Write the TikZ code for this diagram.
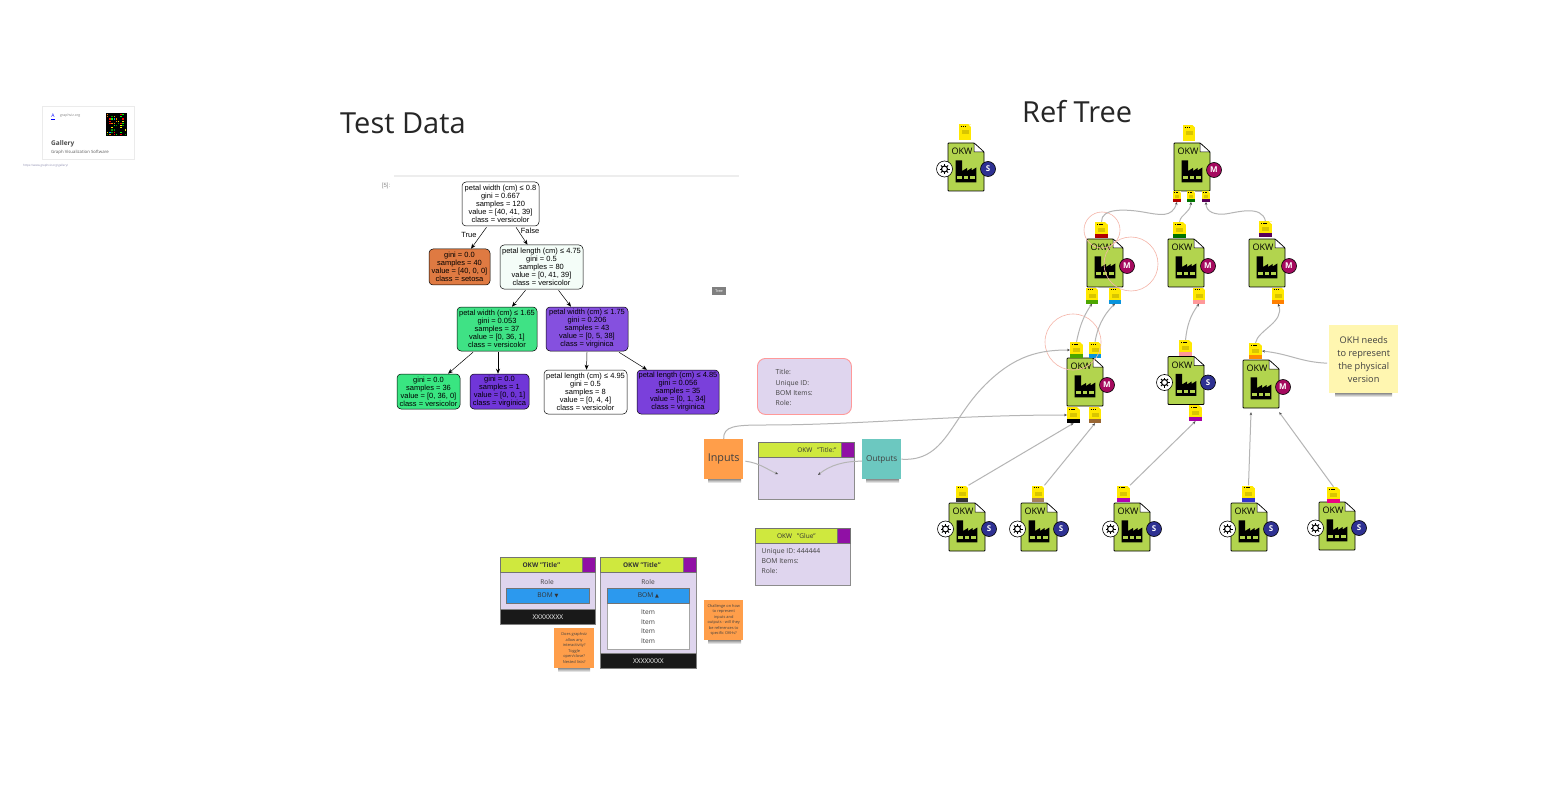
\documentclass[tikz,border=0pt]{standalone}
\usepackage{fontspec}
\setmainfont{Open Sans}
\newfontfamily\treefont{Liberation Sans}
\newfontfamily\symfont{DejaVu Sans}
\usetikzlibrary{arrows.meta}

\definecolor{lav}{HTML}{DFD5EE}
\definecolor{headgreen}{HTML}{CFE83E}
\definecolor{headpurple}{HTML}{9010A5}
\definecolor{btnblue}{HTML}{2C99EE}
\definecolor{okwgreen}{HTML}{B2D44E}
\definecolor{tagyellow}{HTML}{FFE800}
\definecolor{stickyorange}{HTML}{FF9E4A}
\definecolor{stickyteal}{HTML}{6CC8C0}
\definecolor{stickynote}{HTML}{FFF6B0}
\definecolor{ringred}{HTML}{F5B5A8}
\definecolor{wiregray}{HTML}{B5B5B5}
\definecolor{badgem}{HTML}{A50A5F}
\definecolor{badges}{HTML}{2E3192}

\tikzset{
  treenode/.style={draw=black,rounded corners=4pt,line width=.5pt,align=center,inner sep=0pt,
    font=\treefont\fontsize{7.5}{8}\selectfont},
  treeedge/.style={-{Stealth[length=5pt,width=4pt]},line width=.5pt},
  okwbody/.style={minimum width=36pt,minimum height=48pt,inner sep=0pt},
  wire/.style={draw=wiregray,line width=1pt,-{Stealth[length=3pt,width=2.5pt,black!70]}},
  ring/.style={draw=ringred,line width=.6pt},
  boxbody/.style={draw=black!45,line width=.9pt,fill=lav,anchor=north west,inner sep=0pt},
  headbar/.style={draw=black!55,line width=.7pt,fill=headgreen,anchor=north west,inner sep=0pt,
    font=\fontsize{6.5}{7}\selectfont,text=black!80},
  headflag/.style={draw=black!55,line width=.7pt,fill=headpurple,anchor=north west,inner sep=0pt},
  boxtext/.style={align=left,anchor=north west,inner sep=0pt,text=black!75,
    font=\fontsize{6.8}{10.3}\selectfont},
  smalltext/.style={text=black!75,inner sep=0pt,font=\fontsize{6.6}{8}\selectfont},
  sticky/.style={anchor=north west,inner sep=0pt,align=center,text=black!75},
  title/.style={anchor=west,inner sep=0pt,text=black!85,font=\fontsize{29}{32}\selectfont}
}

% the file icon, without badges
\newcommand{\okwfile}[3]{
  \node[okwbody] (#1) at (#2,#3) {};
  \begin{scope}[shift={(#1.center)}]
    \draw[fill=okwgreen,line width=.8pt,rounded corners=.8pt] (-18,-24) -- (8,-24) -- (18,-15) -- (18,24) -- (-18,24) -- cycle;
    \draw[fill=white,line width=.5pt] (8,-24) -- (8,-15) -- (18,-15) -- cycle;
    \fill[black] (-10.3,-6.7) -- (-4,-6.7) -- (-4,4) -- (1,1) -- (1,4) -- (5.5,1) -- (5.5,3.5) -- (10.3,.5) -- (10.3,15.3) -- (-10.3,15.3) -- cycle;
    \foreach \wx in {-8.7,-2,4.3}
      \fill[okwgreen] (\wx,9) rectangle +(4.4,3);
    \node[inner sep=0pt,font=\fontsize{9}{9}\selectfont] at (-4,-15.5) {OKW};
  \end{scope}
}
\newcommand{\okwmaker}[3]{ % file with M badge
  \okwfile{#1}{#2}{#3}
  \node[circle,draw=black,fill=badgem,line width=.6pt,minimum size=15pt,inner sep=0pt,text=white,
    font=\bfseries\fontsize{8}{8}\selectfont] (#1badge) at ([xshift=22pt,yshift=-3pt]#1.center) {M};
}
\newcommand{\okwshop}[3]{ % file with gear and S badge
  \okwfile{#1}{#2}{#3}
  \node[circle,draw=black,fill=badges,line width=.6pt,minimum size=15pt,inner sep=0pt,text=white,
    font=\bfseries\fontsize{8}{8}\selectfont] (#1badge) at ([xshift=22pt,yshift=-2pt]#1.center) {S};
  \node[circle,draw=black,fill=white,line width=.6pt,minimum size=16pt,inner sep=0pt] (#1gear) at ([xshift=-21.5pt,yshift=-2pt]#1.center) {};
  \begin{scope}[shift={(#1gear.center)}]
    \draw[line width=1.1pt] (0,0) circle (3pt);
    \foreach \ga in {0,45,...,315}
      \draw[line width=.9pt] (\ga:3pt) -- (\ga:5pt);
  \end{scope}
}
% the small yellow tag: [scale], name, x, y, band colour
\newcommand{\okwtagdoc}[5][1]{
  \node[minimum width=#1*12.5pt,minimum height=#1*16pt,inner sep=0pt,fill=tagyellow] (#2) at (#3,#4) {};
  \begin{scope}[shift={(#2.center)},scale=#1]
    \fill[#5] (-6.25,4) rectangle (6.25,8);
    \fill[tagyellow!85!black] (-3.5,-2) rectangle (3.5,2);
    \draw[black,line width=.8pt,dash pattern=on 1.4pt off .8pt] (-4.5,-6) -- (2,-6);
    \fill[white] (6.25,-8) -- (3.5,-8) -- (6.25,-5.5) -- cycle;
  \end{scope}
}
% soft shadow under a sticky
\newcommand{\stickyshadow}[3]{
  \shade[top color=black!45,bottom color=white,draw=none] (#1,#3) rectangle (#2,#3+4);
}

\begin{document}
\begin{tikzpicture}[x=1pt,y=-1pt]
  \useasboundingbox (0,0) rectangle (1544,802);
  \fill[white] (0,0) rectangle (1544,802);

  % gallery card
  \node[draw=black!8,line width=.8pt,fill=white,anchor=north west,minimum width=92pt,minimum height=53pt,inner sep=0pt] (gallery) at (42,106) {};
  \node[fill=black,anchor=north west,minimum width=21pt,minimum height=23pt,inner sep=0pt] (galleryimg) at (106,113) {};
  \pgfmathsetseed{11}
  \pgfmathdeclarerandomlist{dotcols}{{red}{green}{yellow}{orange}{cyan}{green!60!black}{black}{black}{black}{black}{black}{black}}
  \foreach \gx in {0,...,8}
    \foreach \gy in {0,...,9}{
      \pgfmathrandomitem{\dotcol}{dotcols}
      \fill[\dotcol] (107+\gx*2.2,114+\gy*2.2) rectangle +(1.4,1.3);
    }
  \node[inner sep=0pt,text=blue,font=\fontsize{5}{5}\selectfont] (galleryicon) at (53,117) {\textcolor{blue}{\underline{A}}};
  \node[inner sep=0pt,anchor=west,text=black!50,font=\fontsize{3.5}{4}\selectfont] (gallerysite) at (60,116) {graphviz.org};
  \node[inner sep=0pt,anchor=west,text=black!70,font=\bfseries\fontsize{6.5}{7}\selectfont] (gallerytitle) at (51,144) {Gallery};
  \node[inner sep=0pt,anchor=west,text=black!65,font=\fontsize{4.3}{5}\selectfont] (gallerysub) at (51,152.5) {Graph Visualization Software};
  \node[inner sep=0pt,anchor=west,text=blue!30!black!45,font=\fontsize{2.9}{3}\selectfont] (gallerylink) at (23,166) {https://www.graphviz.org/gallery/};

  % titles
  \node[title] (testtitle) at (340,123.5) {Test Data};
  \node[title] (reftitle) at (1022,112) {Ref Tree};

  % notebook bits
  \fill[black!7] (394,175) rectangle (739,177);
  \node[inner sep=0pt,text=black!45,font=\treefont\fontsize{6}{6}\selectfont] (cellno) at (386,186) {[5]:};
  \node[fill=black!50,text=white,inner sep=0pt,minimum width=14pt,minimum height=8pt,font=\treefont\fontsize{3.8}{4}\selectfont] (treebadge) at (719,291) {Tree};

  % decision tree
  \node[treenode,fill=white,minimum width=77pt,minimum height=44pt] (n0) at (500.5,204) {petal width (cm) ≤ 0.8\\gini = 0.667\\samples = 120\\value = [40, 41, 39]\\class = versicolor};
  \node[treenode,minimum width=61pt,minimum height=36pt,fill={rgb,255:red,223;green,122;blue,66}] (n1) at (459.5,267) {gini = 0.0\\samples = 40\\value = [40, 0, 0]\\class = setosa};
  \node[treenode,fill={rgb,255:red,244;green,253;blue,248},minimum width=83pt,minimum height=44pt] (n2) at (541.5,267) {petal length (cm) ≤ 4.75\\gini = 0.5\\samples = 80\\value = [0, 41, 39]\\class = versicolor};
  \node[treenode,fill={rgb,255:red,63;green,226;blue,133},minimum width=80pt,minimum height=44pt] (n3) at (497,329) {petal width (cm) ≤ 1.65\\gini = 0.053\\samples = 37\\value = [0, 36, 1]\\class = versicolor};
  \node[treenode,fill={rgb,255:red,133;green,80;blue,223},minimum width=82pt,minimum height=44pt] (n4) at (587,329) {petal width (cm) ≤ 1.75\\gini = 0.206\\samples = 43\\value = [0, 5, 38]\\class = virginica};
  \node[treenode,fill={rgb,255:red,57;green,229;blue,129},minimum width=63pt,minimum height=35pt] (n5) at (428.5,391.5) {gini = 0.0\\samples = 36\\value = [0, 36, 0]\\class = versicolor};
  \node[treenode,fill={rgb,255:red,112;green,54;blue,216},minimum width=59pt,minimum height=35pt] (n6) at (499.5,391.5) {gini = 0.0\\samples = 1\\value = [0, 0, 1]\\class = virginica};
  \node[treenode,fill=white,minimum width=83pt,minimum height=44pt] (n7) at (585.5,392) {petal length (cm) ≤ 4.95\\gini = 0.5\\samples = 8\\value = [0, 4, 4]\\class = versicolor};
  \node[treenode,fill={rgb,255:red,122;green,64;blue,219},minimum width=82pt,minimum height=44pt] (n8) at (678,392) {petal length (cm) ≤ 4.85\\gini = 0.056\\samples = 35\\value = [0, 1, 34]\\class = virginica};
  \draw[treeedge] ([xshift=-14pt,yshift=-1pt]n0.south) -- ([xshift=11.5pt]n1.north);
  \draw[treeedge] ([xshift=15.5pt,yshift=-1pt]n0.south) -- ([xshift=-14pt]n2.north);
  \draw[treeedge] ([xshift=-16pt,yshift=-1pt]n2.south) -- ([xshift=15pt]n3.north);
  \draw[treeedge] ([xshift=17pt,yshift=-1pt]n2.south) -- ([xshift=-16pt]n4.north);
  \draw[treeedge] ([xshift=-24pt,yshift=-1pt]n3.south) -- ([xshift=19.5pt]n5.north);
  \draw[treeedge] ([xshift=1pt,yshift=-1pt]n3.south) -- ([xshift=-1.5pt]n6.north);
  \draw[treeedge] ([yshift=-1pt]n4.south) -- ([xshift=1pt]n7.north);
  \draw[treeedge] ([xshift=32pt,yshift=-1pt]n4.south) -- ([xshift=-31pt]n8.north);
  \node[inner sep=0pt,font=\treefont\fontsize{7.5}{8}\selectfont] (truelabel) at (469,235) {True};
  \node[inner sep=0pt,font=\treefont\fontsize{7.5}{8}\selectfont] (falselabel) at (530,231) {False};

  % field list card
  \node[boxbody,draw=red!40,rounded corners=8pt,minimum width=94pt,minimum height=56pt] (fieldcard) at (757,358) {};
  \node[boxtext] (fieldtext) at (775.5,369.5) {Title:\\Unique ID:\\BOM Items:\\Role:};

  % OKW box with inputs and outputs
  \node[boxbody,minimum width=96pt,minimum height=57pt] (titlebox) at (758,442) {};
  \node[headbar,minimum width=83pt,minimum height=15pt] (titlehead) at (758,442) {\hspace{34pt}OKW\hspace{5pt}"Title:"};
  \node[headflag,minimum width=13pt,minimum height=15pt] (titleflag) at (841,442) {};
  \coordinate (inputsink) at (778,474);
  \coordinate (outputsink) at (818,475);
  \stickyshadow{708}{741}{479}
  \node[sticky,fill=stickyorange,minimum width=39pt,minimum height=40pt,font=\fontsize{10.8}{11}\selectfont] (inputs) at (704,439) {\raisebox{-4pt}{Inputs}};
  \stickyshadow{866}{899}{479}
  \node[sticky,fill=stickyteal,minimum width=39pt,minimum height=40pt,font=\fontsize{8.2}{9}\selectfont] (outputs) at (862,439) {\raisebox{-2.5pt}{Outputs}};

  % glue box
  \node[boxbody,minimum width=95pt,minimum height=57pt] (gluebox) at (755,528) {};
  \node[headbar,minimum width=82pt,minimum height=14.5pt] (gluehead) at (755,528) {OKW\hspace{5pt}"Glue"};
  \node[headflag,minimum width=13pt,minimum height=14.5pt] (glueflag) at (837,528) {};
  \node[boxtext] (gluetext) at (761.5,548) {Unique ID: 444444\\BOM Items:\\Role:};

  % closed widget
  \node[boxbody,minimum width=95pt,minimum height=67pt] (widgeta) at (500,557) {};
  \node[headbar,minimum width=82pt,minimum height=15pt,font=\bfseries\fontsize{6.5}{7}\selectfont] (widgetahead) at (500,557) {OKW "Title"};
  \node[headflag,minimum width=13pt,minimum height=15pt] (widgetaflag) at (582,557) {};
  \node[smalltext] (widgetarole) at (547,581.7) {Role};
  \node[draw=black!55,line width=.8pt,fill=btnblue,anchor=north west,minimum width=83pt,minimum height=15pt,inner sep=0pt,font=\fontsize{6.6}{8}\selectfont,text=black!80] (widgetabtn) at (506,588) {BOM {\symfont\fontsize{5}{5}\selectfont ▼}};
  \node[draw=black!50,line width=.8pt,fill=black!90,anchor=north west,minimum width=95pt,minimum height=15pt,inner sep=0pt,text=white,font=\fontsize{6.6}{8}\selectfont] (widgetabar) at (500,609) {XXXXXXXX};

  % open widget
  \node[boxbody,minimum width=96pt,minimum height=111pt] (widgetb) at (600,557) {};
  \node[headbar,minimum width=83pt,minimum height=15pt,font=\bfseries\fontsize{6.5}{7}\selectfont] (widgetbhead) at (600,557) {OKW "Title"};
  \node[headflag,minimum width=13pt,minimum height=15pt] (widgetbflag) at (683,557) {};
  \node[smalltext] (widgetbrole) at (648,581.7) {Role};
  \node[draw=black!35,line width=.9pt,fill=white,anchor=north west,minimum width=82pt,minimum height=46pt,inner sep=0pt] (widgetblist) at (607,603) {};
  \node[draw=black!55,line width=.8pt,fill=btnblue,anchor=north west,minimum width=82pt,minimum height=15pt,inner sep=0pt,font=\fontsize{6.6}{8}\selectfont,text=black!80] (widgetbbtn) at (607,588) {BOM {\symfont\fontsize{5}{5}\selectfont ▲}};
  \foreach \iy in {611.7,621.7,630.7,640.7}
    \node[smalltext] at (648,\iy) {Item};
  \node[draw=black!50,line width=.8pt,fill=black!90,anchor=north west,minimum width=96pt,minimum height=15pt,inner sep=0pt,text=white,font=\fontsize{6.6}{8}\selectfont] (widgetbbar) at (600,653) {XXXXXXXX};

  % small stickies
  \stickyshadow{558}{590}{668}
  \node[sticky,fill=stickyorange,minimum width=40pt,minimum height=40pt,font=\fontsize{3.9}{5.5}\selectfont] (asknote) at (554,628) {Does graphviz\\allow any\\interactivity?\\Toggle\\open/close?\\Nested lists?};
  \stickyshadow{708}{741}{640}
  \node[sticky,fill=stickyorange,minimum width=39pt,minimum height=40pt,font=\fontsize{3.9}{5.5}\selectfont] (challengenote) at (704,600) {Challenge on how\\to represent\\inputs and\\outputs - will they\\be references to\\specific OKHs?};

  % ref tree files
  \okwshop{okwA}{966}{167}
  \okwmaker{okwR}{1192}{167}
  \okwmaker{okwB}{1105}{263}
  \okwmaker{okwC}{1186}{263}
  \okwmaker{okwD}{1267}{263}
  \okwmaker{okwE}{1085}{382}
  \okwshop{okwF}{1186}{380.5}
  \okwmaker{okwG}{1261}{384}
  \okwshop{okwH}{967}{527}
  \okwshop{okwI}{1039}{527}
  \okwshop{okwJ}{1132}{527}
  \okwshop{okwK}{1249}{527}
  \okwshop{okwL}{1337}{526}

  % tags
  \okwtagdoc{tagA}{965}{132.5}{tagyellow}
  \okwtagdoc{tagR}{1189}{133}{tagyellow}
  \okwtagdoc[.65]{tagRa}{1177}{196.5}{red!70!black}
  \okwtagdoc[.65]{tagRb}{1191}{196.5}{green!45!black}
  \okwtagdoc[.65]{tagRc}{1206}{196.5}{violet!70!black}
  \okwtagdoc{tagB}{1101.5}{230}{red!70!black}
  \okwtagdoc{tagBa}{1092}{295.5}{green!50!black!70!yellow}
  \okwtagdoc{tagBb}{1115}{295.5}{cyan!80!blue}
  \okwtagdoc{tagC}{1179.5}{230}{green!45!black}
  \okwtagdoc{tagCa}{1199}{295.5}{pink!80!red}
  \okwtagdoc{tagD}{1265.5}{229.5}{violet!70!black}
  \okwtagdoc{tagDa}{1278}{295.5}{orange}
  \okwtagdoc{tagEa}{1076.5}{350}{green!50!black!70!yellow}
  \okwtagdoc{tagEb}{1095}{350}{cyan!80!blue}
  \okwtagdoc{tagEc}{1073.5}{415}{black}
  \okwtagdoc{tagEd}{1095}{415}{brown!80!black}
  \okwtagdoc{tagF}{1185.5}{348}{pink!80!red}
  \okwtagdoc{tagFa}{1195.5}{413}{violet!70!magenta}
  \okwtagdoc{tagG}{1255.5}{351}{orange!90!yellow}
  \okwtagdoc{tagH}{962}{493.5}{black!80}
  \okwtagdoc{tagI}{1038}{493.5}{brown!60!gray}
  \okwtagdoc{tagJ}{1123.5}{493.5}{violet!60!magenta}
  \okwtagdoc{tagK}{1248.5}{493.5}{blue!60!gray}
  \okwtagdoc{tagL}{1333.5}{495}{magenta!90!red}

  % note on the right
  \stickyshadow{1335}{1392}{393}
  \node[sticky,fill=stickynote,minimum width=69pt,minimum height=68pt,font=\fontsize{9.2}{13}\selectfont] (okhnote) at (1329,325) {OKH needs\\to represent\\the physical\\version};

  % rings
  \draw[ring] (1102,230) circle (18);
  \draw[ring] (1131,264) circle (27);
  \draw[ring] (1073,342) circle (28);

  % wires up the tree
  \draw[wire] (tagB.north) .. controls (1101,208) and (1125,209) .. (1143,212) .. controls (1160,215) and (1172,218) .. (tagRa.south);
  \draw[wire] (tagC.north) .. controls (1181,214) and (1190,213) .. (tagRb.south);
  \draw[wire] (tagD.north) .. controls (1262,204) and (1235,213) .. (1225,214) .. controls (1215,215) and (1206,212) .. (tagRc.south);
  \draw[wire] (tagEa.north) .. controls (1079,330) and (1082,318) .. (tagBa.south);
  \draw[wire] (tagEb.north) .. controls (1097,330) and (1102,316) .. (tagBb.south);
  \draw[wire] (tagF.north) .. controls (1187,326) and (1190,316) .. (tagCa.south);
  \draw[wire] (tagG.north) .. controls (1258,330) and (1285,322) .. (tagDa.south);
  \draw[wire] (tagH.north east) -- (tagEc.south);
  \draw[wire] (tagI.north east) -- (tagEd.south);
  \draw[wire] (tagJ.north east) -- (tagFa.south);
  \draw[wire] (tagK.north) -- ([xshift=-10pt,yshift=-4pt]okwG.south);
  \draw[wire] (tagL.north) -- ([yshift=-4pt]okwG.south east);

  % wires from the stickies
  \draw[wire] ([shift={(-2pt,-4pt)}]okhnote.west) .. controls (1300,362) and (1290,354) .. (tagG.east);
  \draw[wire] (inputs.north) .. controls (723,426) and (735,425) .. (765,425) .. controls (860,425) and (950,415) .. (tagEc.west);
  \draw[wire] ([shift={(2pt,-2pt)}]inputs.east) .. controls (760,463) and (768,470) .. (inputsink);
  \draw[wire] ([yshift=-2pt]outputs.west) .. controls (845,461) and (830,465) .. (outputsink);
  \draw[wire] (outputs.east) .. controls (945,462) and (950,420) .. (985,385) .. controls (1015,355) and (1040,350) .. (tagEa.west);
\end{tikzpicture}
\end{document}
